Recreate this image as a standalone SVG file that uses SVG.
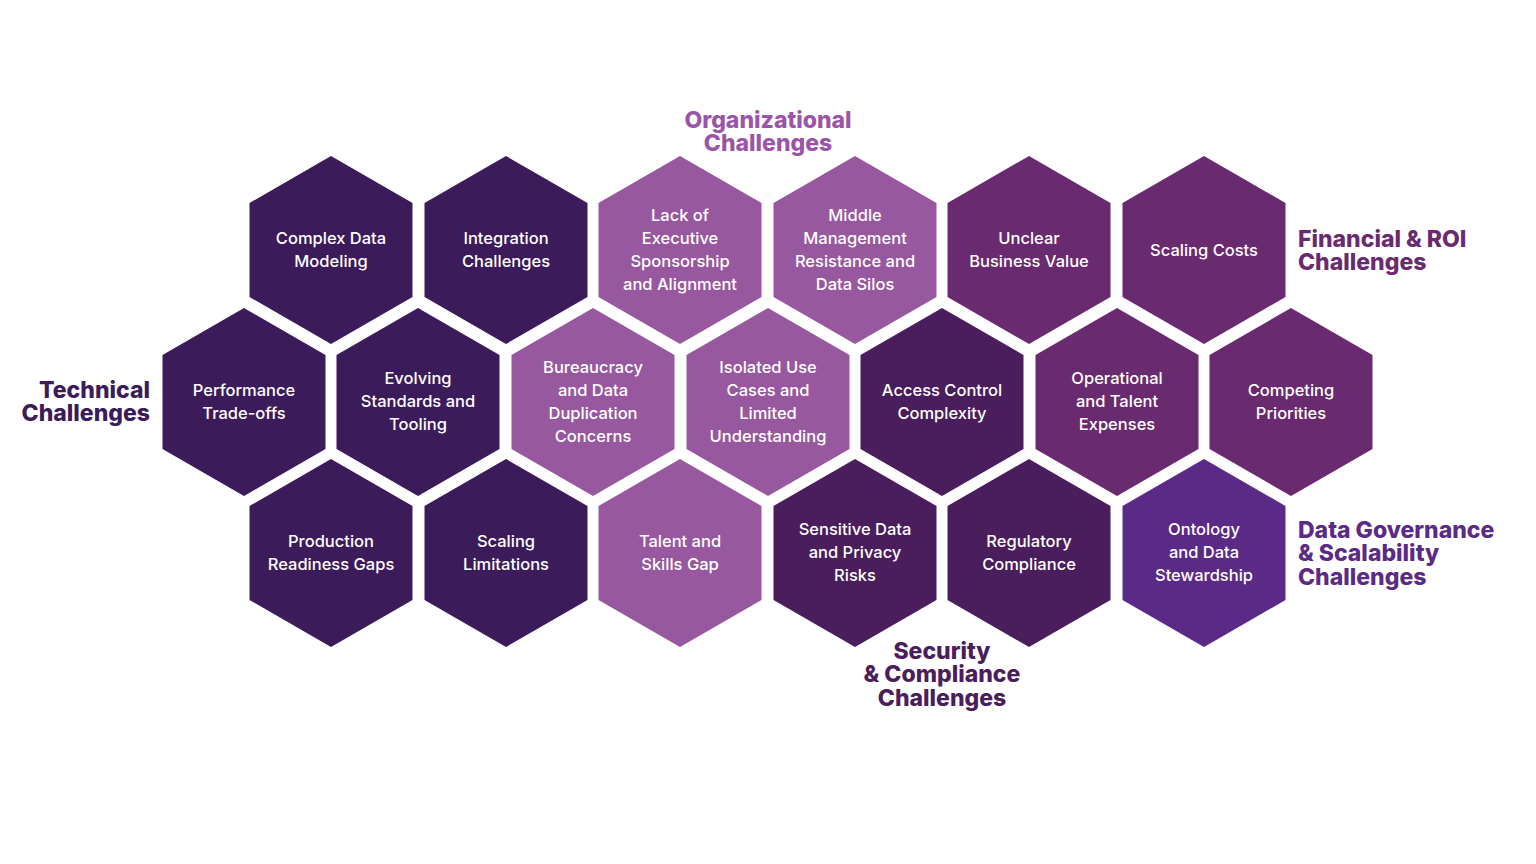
<svg xmlns="http://www.w3.org/2000/svg" width="1536" height="864" viewBox="0 0 1536 864">
<style>
.t{font-family:Inter,"Noto Sans",sans-serif;font-size:16.5px;font-weight:500;fill:#fff;text-anchor:middle}
.h{font-family:Inter,"Noto Sans",sans-serif;font-size:23px;font-weight:800}
.tech{fill:#3c1b5b}.org{fill:#97589f}.fin{fill:#6a2a6f}.sec{fill:#4a1d5c}.gov{fill:#5b2a87}
</style>
<defs><polygon id="hx" points="0,-94 81.5,-47 81.5,47 0,94 -81.5,47 -81.5,-47"/></defs>
<rect width="1536" height="864" fill="#fff"/>
<g id="n1" transform="translate(331,250)"><use href="#hx" class="tech"/><text class="t" y="-6">Complex Data</text><text class="t" y="17">Modeling</text></g>
<g id="n2" transform="translate(506,250)"><use href="#hx" class="tech"/><text class="t" y="-6">Integration</text><text class="t" y="17">Challenges</text></g>
<g id="n3" transform="translate(680,250)"><use href="#hx" class="org"/><text class="t" y="-29">Lack of</text><text class="t" y="-6">Executive</text><text class="t" y="17">Sponsorship</text><text class="t" y="40">and Alignment</text></g>
<g id="n4" transform="translate(855,250)"><use href="#hx" class="org"/><text class="t" y="-29">Middle</text><text class="t" y="-6">Management</text><text class="t" y="17">Resistance and</text><text class="t" y="40">Data Silos</text></g>
<g id="n5" transform="translate(1029,250)"><use href="#hx" class="fin"/><text class="t" y="-6">Unclear</text><text class="t" y="17">Business Value</text></g>
<g id="n6" transform="translate(1204,250)"><use href="#hx" class="fin"/><text class="t" y="6">Scaling Costs</text></g>
<g id="n7" transform="translate(244,402)"><use href="#hx" class="tech"/><text class="t" y="-6">Performance</text><text class="t" y="17">Trade-offs</text></g>
<g id="n8" transform="translate(418,402)"><use href="#hx" class="tech"/><text class="t" y="-18">Evolving</text><text class="t" y="5">Standards and</text><text class="t" y="28">Tooling</text></g>
<g id="n9" transform="translate(593,402)"><use href="#hx" class="org"/><text class="t" y="-29">Bureaucracy</text><text class="t" y="-6">and Data</text><text class="t" y="17">Duplication</text><text class="t" y="40">Concerns</text></g>
<g id="n10" transform="translate(768,402)"><use href="#hx" class="org"/><text class="t" y="-29">Isolated Use</text><text class="t" y="-6">Cases and</text><text class="t" y="17">Limited</text><text class="t" y="40">Understanding</text></g>
<g id="n11" transform="translate(942,402)"><use href="#hx" class="sec"/><text class="t" y="-6">Access Control</text><text class="t" y="17">Complexity</text></g>
<g id="n12" transform="translate(1117,402)"><use href="#hx" class="fin"/><text class="t" y="-18">Operational</text><text class="t" y="5">and Talent</text><text class="t" y="28">Expenses</text></g>
<g id="n13" transform="translate(1291,402)"><use href="#hx" class="fin"/><text class="t" y="-6">Competing</text><text class="t" y="17">Priorities</text></g>
<g id="n14" transform="translate(331,553)"><use href="#hx" class="tech"/><text class="t" y="-6">Production</text><text class="t" y="17">Readiness Gaps</text></g>
<g id="n15" transform="translate(506,553)"><use href="#hx" class="tech"/><text class="t" y="-6">Scaling</text><text class="t" y="17">Limitations</text></g>
<g id="n16" transform="translate(680,553)"><use href="#hx" class="org"/><text class="t" y="-6">Talent and</text><text class="t" y="17">Skills Gap</text></g>
<g id="n17" transform="translate(855,553)"><use href="#hx" class="sec"/><text class="t" y="-18">Sensitive Data</text><text class="t" y="5">and Privacy</text><text class="t" y="28">Risks</text></g>
<g id="n18" transform="translate(1029,553)"><use href="#hx" class="sec"/><text class="t" y="-6">Regulatory</text><text class="t" y="17">Compliance</text></g>
<g id="n19" transform="translate(1204,553)"><use href="#hx" class="gov"/><text class="t" y="-18">Ontology</text><text class="t" y="5">and Data</text><text class="t" y="28">Stewardship</text></g>
<g id="labels">
<text class="h" fill="#9a55a8" text-anchor="middle" x="768" y="128">Organizational</text><text class="h" fill="#9a55a8" text-anchor="middle" x="768" y="151">Challenges</text>
<text class="h" fill="#3c1b5b" text-anchor="end" x="150" y="398">Technical</text><text class="h" fill="#3c1b5b" text-anchor="end" x="150" y="421">Challenges</text>
<text class="h" fill="#6a2a6f" x="1298" y="247">Financial &amp; ROI</text><text class="h" fill="#6a2a6f" x="1298" y="270">Challenges</text>
<text class="h" fill="#5b2a87" x="1298" y="538">Data Governance</text><text class="h" fill="#5b2a87" x="1298" y="561">&amp; Scalability</text><text class="h" fill="#5b2a87" x="1298" y="585">Challenges</text>
<text class="h" fill="#4a1d5c" text-anchor="middle" x="942" y="659">Security</text><text class="h" fill="#4a1d5c" text-anchor="middle" x="942" y="682">&amp; Compliance</text><text class="h" fill="#4a1d5c" text-anchor="middle" x="942" y="706">Challenges</text>
</g>
<g id="connectors"/>
</svg>
